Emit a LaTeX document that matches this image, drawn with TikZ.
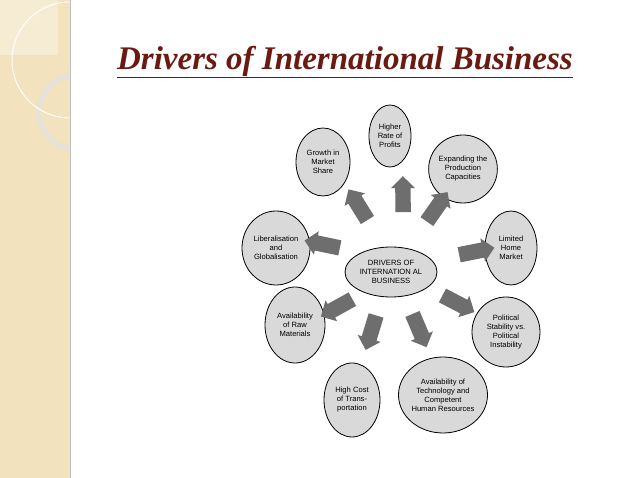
\documentclass[tikz,border=0pt]{standalone}
\usepackage{fontspec}
\setmainfont{Liberation Serif}
\newfontfamily\labelfont{Liberation Sans}
\usetikzlibrary{shapes.geometric,shapes.arrows,calc}
\definecolor{sidebar}{HTML}{F2E2BE}
\definecolor{ringgrey}{HTML}{E6E2DA}
\definecolor{titlered}{HTML}{6B1A12}
\definecolor{bubble}{HTML}{D9D9D9}
\definecolor{arrowgrey}{HTML}{6E6E6E}
\tikzset{
  driver/.style={ellipse, draw=black, line width=0.8pt, fill=bubble, inner sep=0pt,
    align=center, font=\labelfont\fontsize{7.6}{9}\selectfont},
  push/.style={single arrow, fill=arrowgrey, minimum width=24pt, minimum height=36pt,
    single arrow head extend=4pt, inner sep=7pt}
}
\begin{document}
\begin{tikzpicture}[x=1pt,y=-1pt]
        \useasboundingbox (0,0) rectangle (638,478);
        \fill[white] (0,0) rectangle (638,478);
        % Sidebar
        \begin{scope}
            \clip (0,0) rectangle (70,478);
            \fill[sidebar] (0,0) rectangle (70,478);
            \fill[white,opacity=0.35] (0,0) rectangle (58,55);
            \draw[ringgrey,line width=5pt] (76,112) circle (37);
            \draw[white,line width=1pt] (70,60) circle (58);
        \end{scope}
        \draw[gray!50,line width=0.6pt] (70,0) -- (70,478);
        % Title
        \node[font=\fontsize{33}{36}\selectfont\bfseries\itshape, text=titlered] (title) at (345,62)
            {\underline{Drivers of International Business}};
        % Bubbles
        \node[driver, minimum width=92pt, minimum height=50pt] (hub) at (391,272) {DRIVERS OF\\INTERNATION AL\\BUSINESS};
        \node[driver, minimum width=42pt, minimum height=62pt] (profits) at (390,136) {Higher\\Rate of\\Profits};
        \node[driver, minimum width=54pt, minimum height=68pt] (growth) at (323,162) {Growth in\\Market\\Share};
        \node[driver, minimum width=66pt, minimum height=68pt] (expand) at (463,169) {Expanding the\\Production\\Capacities};
        \node[driver, minimum width=52pt, minimum height=74pt] (home) at (511,248) {Limited\\Home\\Market};
        \node[driver, minimum width=68pt, minimum height=74pt] (liberal) at (276,248) {Liberalisation\\and\\Globalisation};
        \node[driver, minimum width=60pt, minimum height=76pt] (raw) at (295,325) {Availability\\of Raw\\Materials};
        \node[driver, minimum width=56pt, minimum height=74pt] (transport) at (352,400) {High Cost\\of Trans-\\portation};
        \node[driver, minimum width=80pt, minimum height=76pt] (tech) at (443,395) {Availability of\\Technology and\\Competent\\Human Resources};
        \node[driver, minimum width=68pt, minimum height=70pt] (politics) at (506,332) {Political\\Stability vs.\\Political\\Instability};
        % Arrows
        \foreach \target/\ax/\ay in {profits/403/198, growth/360/208, expand/435/210, home/473/252,
            liberal/326/245, raw/340/306, transport/372/329, tech/418/327, politics/455/302} {
            \path let \p1=($(\target)-(hub)$), \n1={atan2(\y1,\x1)} in
                node[push, rotate=\n1] (arrow-\target) at (\ax,\ay) {};
        }
\end{tikzpicture}
\end{document}
